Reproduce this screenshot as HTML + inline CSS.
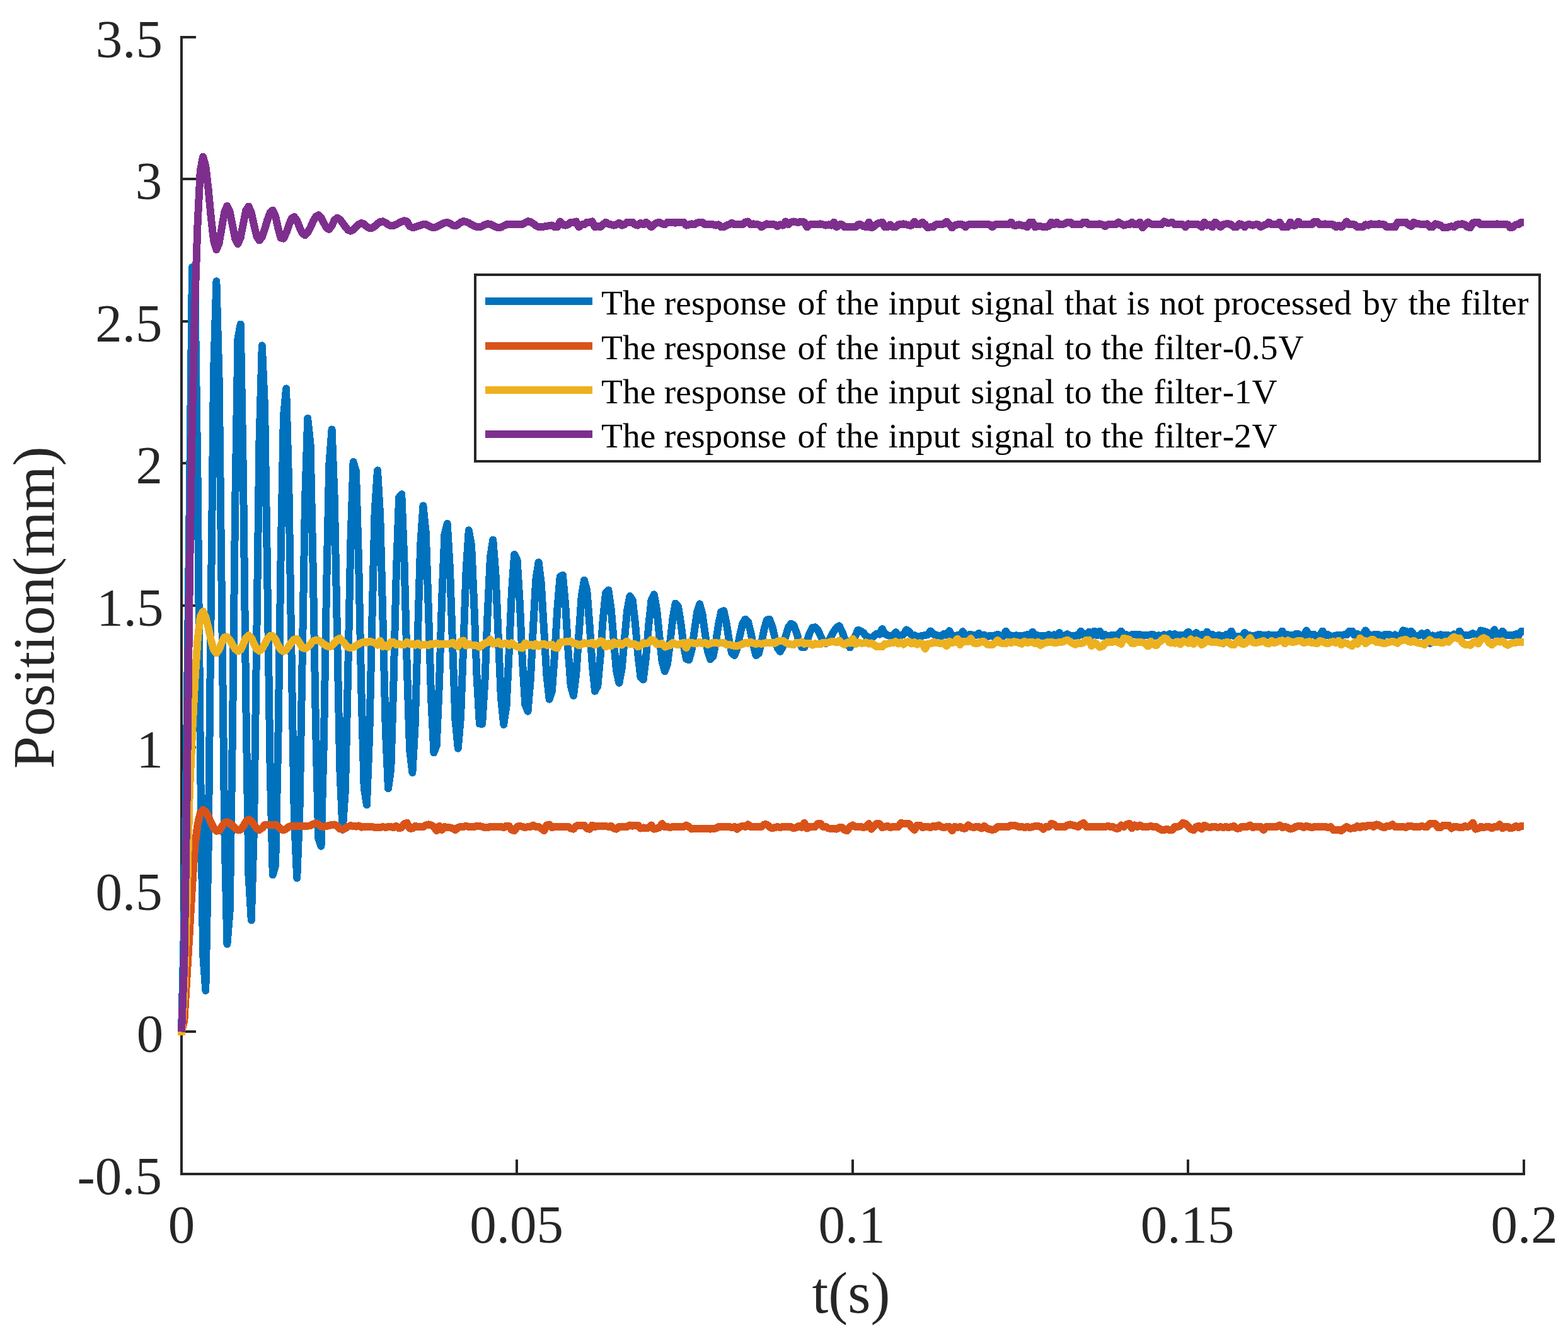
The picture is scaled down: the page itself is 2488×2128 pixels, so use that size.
<!DOCTYPE html>
<html lang="en"><head><meta charset="utf-8"><title>Position response</title>
<style>html,body{margin:0;padding:0;background:#fff}svg{display:block}</style></head>
<body>
<svg width="2488" height="2128" viewBox="0 0 2488 2128" role="img" aria-label="Position response versus time">
<rect width="2488" height="2128" fill="#fff"/>
<g id="axes" fill="#262626" stroke="none" shape-rendering="crispEdges">
<rect x="286" y="57" width="4" height="1808"/>
<rect x="286" y="1861" width="2134" height="4"/>
<rect x="818" y="1840" width="4" height="22"/>
<rect x="1351" y="1840" width="4" height="22"/>
<rect x="1883" y="1840" width="4" height="22"/>
<rect x="2416" y="1840" width="4" height="22"/>
<rect x="289" y="1635" width="22" height="4"/>
<rect x="289" y="1410" width="22" height="4"/>
<rect x="289" y="1184" width="22" height="4"/>
<rect x="289" y="959" width="22" height="4"/>
<rect x="289" y="733" width="22" height="4"/>
<rect x="289" y="508" width="22" height="4"/>
<rect x="289" y="282" width="22" height="4"/>
<rect x="289" y="57" width="22" height="4"/>
</g>
<g id="curves" shape-rendering="crispEdges">
<polyline points="288.0,1637.5 292.3,1461.6 296.5,1150.4 300.8,794.1 305.0,424.1 309.3,453.8 313.6,764.2 317.8,1190.7 322.1,1513.8 326.3,1571.9 330.6,1345.1 334.9,949.0 339.1,588.1 343.4,446.3 347.6,602.1 351.9,952.9 356.2,1311.8 360.4,1498.2 364.7,1445.0 368.9,1165.0 373.2,799.7 377.5,537.1 381.7,514.5 386.0,757.3 390.2,1110.2 394.5,1389.6 398.8,1460.2 403.0,1313.2 407.3,1007.5 411.5,699.6 415.8,548.3 420.1,647.6 424.3,919.7 428.6,1216.8 432.8,1388.4 437.1,1373.0 441.4,1170.0 445.6,883.6 449.9,660.9 454.1,616.5 458.4,776.1 462.7,1050.8 466.9,1298.5 471.2,1393.6 475.4,1287.5 479.7,1045.4 484.0,795.5 488.2,663.9 492.5,704.4 496.7,901.1 501.0,1153.0 505.3,1330.7 509.5,1342.8 513.8,1180.1 518.0,935.9 522.3,736.6 526.6,681.5 530.8,792.8 535.1,1010.1 539.3,1220.2 543.6,1316.8 547.9,1253.8 552.1,1068.9 556.4,859.7 560.6,733.0 564.9,747.6 569.2,894.7 573.4,1096.9 577.7,1250.1 581.9,1277.3 586.2,1166.7 590.5,978.4 594.7,809.9 599.0,746.4 603.2,817.5 607.5,983.6 611.8,1157.8 616.0,1251.4 620.3,1220.2 624.5,1081.7 628.8,908.5 633.1,789.5 637.3,784.3 641.6,894.1 645.8,1057.6 650.1,1190.3 654.4,1226.1 658.6,1151.5 662.9,1006.4 667.1,866.4 671.4,802.5 675.7,844.5 679.9,968.5 684.2,1109.0 688.4,1194.4 692.7,1183.3 697.0,1083.8 701.2,948.7 705.5,847.6 709.7,830.8 714.0,903.4 718.3,1029.2 722.5,1143.3 726.8,1187.6 731.0,1138.5 735.3,1024.7 739.6,905.4 743.8,841.4 748.1,865.7 752.3,960.3 756.6,1073.9 760.9,1148.5 765.1,1148.8 769.4,1081.4 773.6,975.3 777.9,884.7 782.2,856.7 786.4,909.4 790.7,1010.2 794.9,1106.5 799.2,1149.8 803.5,1120.6 807.7,1035.3 812.0,938.5 816.2,879.8 820.5,888.1 824.8,957.0 829.0,1049.6 833.3,1118.2 837.5,1128.8 841.8,1078.4 846.1,994.1 850.3,919.7 854.6,892.4 858.8,925.7 863.1,998.5 867.4,1072.2 871.6,1109.6 875.9,1096.6 880.1,1038.5 884.4,965.4 888.7,914.8 892.9,912.5 897.2,959.7 901.4,1030.4 905.7,1088.2 910.0,1104.0 914.2,1070.3 918.5,1006.8 922.7,946.9 927.0,920.6 931.3,937.1 935.5,991.1 939.8,1055.4 944.0,1096.8 948.3,1088.8 952.6,1041.6 956.8,981.9 961.1,940.5 965.3,936.4 969.6,965.8 973.9,1017.5 978.1,1065.0 982.4,1083.8 986.6,1061.3 990.9,1014.3 995.2,968.3 999.4,946.0 1003.7,952.1 1007.9,988.6 1012.2,1038.0 1016.5,1074.8 1020.7,1078.6 1025.0,1043.2 1029.2,992.5 1033.5,952.8 1037.8,943.4 1042.0,966.8 1046.3,1009.6 1050.5,1049.0 1054.8,1065.4 1059.1,1053.2 1063.3,1018.7 1067.6,980.3 1071.8,957.5 1076.1,962.7 1080.4,989.8 1084.6,1023.3 1088.9,1045.7 1093.1,1047.3 1097.4,1032.6 1101.7,1002.7 1105.9,972.4 1110.2,958.4 1114.4,974.1 1118.7,1004.7 1123.0,1033.5 1127.2,1046.3 1131.5,1041.8 1135.7,1019.8 1140.0,991.2 1144.3,970.8 1148.5,969.4 1152.8,989.7 1157.0,1016.8 1161.3,1036.5 1165.6,1040.0 1169.8,1028.2 1174.1,1007.7 1178.3,989.6 1182.6,982.6 1186.9,986.4 1191.1,1002.9 1195.4,1024.6 1199.6,1040.0 1203.9,1037.0 1208.2,1020.0 1212.4,998.7 1216.7,984.0 1220.9,982.6 1225.2,993.5 1229.5,1011.7 1233.7,1028.1 1238.0,1034.1 1242.2,1025.8 1246.5,1010.1 1250.8,995.8 1255.0,989.8 1259.3,992.0 1263.5,1002.8 1267.8,1016.8 1272.1,1026.8 1276.3,1027.3 1280.6,1017.1 1284.8,1004.4 1289.1,996.0 1293.4,995.3 1297.6,999.8 1301.9,1008.8 1306.1,1017.3 1310.4,1021.2 1314.7,1018.7 1318.9,1009.3 1323.2,1001.8 1327.4,996.0 1331.7,993.3 1336.0,1002.0 1340.2,1013.5 1344.5,1020.7 1348.7,1027.5 1353.0,1017.6 1357.3,1008.8 1361.5,999.6 1365.8,1001.4 1370.0,1004.1 1374.3,1009.8 1378.6,1011.5 1382.8,1013.2 1387.1,1008.5 1391.3,1005.6 1395.6,1006.6 1399.9,998.0 1404.1,1006.1 1408.4,1007.9 1412.6,1009.1 1416.9,1008.6 1421.2,1003.3 1425.4,1010.1 1429.7,1008.3 1433.9,1006.7 1438.2,999.4 1442.5,1002.4 1446.7,1008.0 1451.0,1008.2 1455.2,1010.0 1459.5,1009.8 1463.8,1008.9 1468.0,1007.9 1472.3,1007.1 1476.5,1001.5 1480.8,1006.5 1485.1,1007.4 1489.3,1009.2 1493.6,1009.4 1497.8,1005.9 1502.1,1008.4 1506.4,1001.1 1510.6,1008.7 1514.9,1011.3 1519.1,1008.2 1523.4,1009.8 1527.7,1002.2 1531.9,1008.9 1536.2,1007.5 1540.4,1007.1 1544.7,1007.9 1549.0,1007.9 1553.2,1004.9 1557.5,1009.5 1561.7,1007.5 1566.0,1011.0 1570.3,1008.6 1574.5,1009.5 1578.8,1008.2 1583.0,1006.9 1587.3,1009.2 1591.6,1009.4 1595.8,1001.7 1600.1,1007.4 1604.3,1008.6 1608.6,1009.6 1612.9,1008.3 1617.1,1009.3 1621.4,1009.3 1625.6,1008.2 1629.9,1007.2 1634.2,1008.4 1638.4,1002.8 1642.7,1008.5 1646.9,1008.4 1651.2,1009.4 1655.5,1009.4 1659.7,1009.4 1664.0,1007.2 1668.2,1009.5 1672.5,1007.3 1676.8,1008.4 1681.0,1004.1 1685.3,1010.6 1689.5,1008.3 1693.8,1006.3 1698.1,1009.4 1702.3,1009.5 1706.6,1008.4 1710.8,1009.5 1715.1,1001.6 1719.4,1007.2 1723.6,1011.9 1727.9,1002.7 1732.1,1008.3 1736.4,1001.6 1740.7,1008.4 1744.9,1001.6 1749.2,1009.5 1753.4,1007.2 1757.7,1012.0 1762.0,1008.3 1766.2,1008.3 1770.5,1008.3 1774.7,1007.2 1779.0,1001.6 1783.3,1009.5 1787.5,1007.2 1791.8,1009.5 1796.0,1007.2 1800.3,1007.2 1804.6,1007.2 1808.8,1007.2 1813.1,1008.4 1817.3,1008.4 1821.6,1008.4 1825.9,1007.2 1830.1,1007.2 1834.4,1009.5 1838.6,1008.3 1842.9,1009.5 1847.2,1007.2 1851.4,1008.4 1855.7,1006.1 1859.9,1009.5 1864.2,1006.1 1868.5,1008.4 1872.7,1008.4 1877.0,1008.4 1881.2,1007.2 1885.5,1002.7 1889.8,1008.4 1894.0,1008.4 1898.3,1004.1 1902.5,1008.4 1906.8,1007.2 1911.1,1009.5 1915.3,1002.7 1919.6,1008.4 1923.8,1007.2 1928.1,1009.5 1932.4,1008.4 1936.6,1008.4 1940.9,1021.0 1945.1,1007.2 1949.4,1009.5 1953.7,1001.6 1957.9,1009.5 1962.2,1009.5 1966.4,1009.5 1970.7,1009.5 1975.0,1004.1 1979.2,1008.4 1983.5,1008.4 1987.7,1009.5 1992.0,1008.4 1996.3,1007.2 2000.5,1007.2 2004.8,1008.4 2009.0,1008.4 2013.3,1007.2 2017.6,1008.4 2021.8,1008.4 2026.1,1008.4 2030.3,1007.2 2034.6,1001.6 2038.9,1008.4 2043.1,1007.2 2047.4,1008.4 2051.6,1008.4 2055.9,1006.3 2060.2,1006.3 2064.4,1008.4 2068.7,1008.4 2072.9,1000.5 2077.2,1008.4 2081.5,1007.2 2085.7,1007.2 2090.0,1010.6 2094.2,1008.4 2098.5,1001.6 2102.8,1008.4 2107.0,1007.2 2111.3,1009.5 2115.5,1009.5 2119.8,1008.4 2124.1,1008.4 2128.3,1008.4 2132.6,1007.2 2136.8,1007.2 2141.1,1001.6 2145.4,1001.6 2149.6,1008.4 2153.9,1006.1 2158.1,1008.4 2162.4,1008.4 2166.7,1000.5 2170.9,1006.1 2175.2,1009.7 2179.4,1007.2 2183.7,1007.2 2188.0,1007.2 2192.2,1013.1 2196.5,1007.2 2200.7,1007.2 2205.0,1007.2 2209.3,1009.5 2213.5,1007.2 2217.8,1009.5 2222.0,1009.5 2226.3,1000.5 2230.6,1001.6 2234.8,1009.5 2239.1,1001.6 2243.3,1007.2 2247.6,1009.5 2251.9,1008.4 2256.1,1005.2 2260.4,1009.5 2264.6,1004.1 2268.9,1021.0 2273.2,1008.4 2277.4,1012.0 2281.7,1008.4 2285.9,1007.2 2290.2,1008.4 2294.5,1008.4 2298.7,1008.4 2303.0,1009.5 2307.2,1006.3 2311.5,1010.8 2315.8,1001.6 2320.0,1007.2 2324.3,1008.4 2328.5,1008.4 2332.8,1007.2 2337.1,1005.2 2341.3,1007.2 2345.6,1010.6 2349.8,1000.5 2354.1,1001.6 2358.4,1002.7 2362.6,1007.2 2366.9,1008.4 2371.1,999.3 2375.4,1007.2 2379.7,1007.2 2383.9,1001.6 2388.2,1007.2 2392.4,1008.4 2396.7,1008.4 2401.0,1008.4 2405.2,1006.3 2409.5,1008.4 2413.7,1001.6 2418.0,1001.6" fill="none" stroke="#0072BD" stroke-width="12.0" stroke-linejoin="round" stroke-linecap="butt"/>
<polyline points="288.0,1637.5 292.3,1619.9 296.5,1550.9 300.8,1478.7 305.0,1406.6 309.3,1342.1 313.6,1308.3 317.8,1290.2 322.1,1285.3 326.3,1288.1 330.6,1295.6 334.9,1305.1 339.1,1313.8 343.4,1318.7 347.6,1318.1 351.9,1312.0 356.2,1305.6 360.4,1304.4 364.7,1306.5 368.9,1310.3 373.2,1314.4 377.5,1317.0 381.7,1316.8 386.0,1311.1 390.2,1303.7 394.5,1300.5 398.8,1303.0 403.0,1308.7 407.3,1314.5 411.5,1317.0 415.8,1314.0 420.1,1309.2 424.3,1308.5 428.6,1308.5 432.8,1308.5 437.1,1308.6 441.4,1311.3 445.6,1315.7 449.9,1317.4 454.1,1315.3 458.4,1312.0 462.7,1310.7 466.9,1310.7 471.2,1310.7 475.4,1310.7 479.7,1310.7 484.0,1310.7 488.2,1310.7 492.5,1310.2 496.7,1307.9 501.0,1306.3 505.3,1308.0 509.5,1311.4 513.8,1311.9 518.0,1311.1 522.3,1309.9 526.6,1308.9 530.8,1308.5 535.1,1311.2 539.3,1315.3 543.6,1316.1 547.9,1314.3 552.1,1311.9 556.4,1309.9 560.6,1311.2 564.9,1311.6 569.2,1310.4 573.4,1312.8 577.7,1311.9 581.9,1312.0 586.2,1312.0 590.5,1312.0 594.7,1313.1 599.0,1313.1 603.2,1313.1 607.5,1312.0 611.8,1313.1 616.0,1312.0 620.3,1312.0 624.5,1313.1 628.8,1310.9 633.1,1314.5 637.3,1313.1 641.6,1307.1 645.8,1305.9 650.1,1314.5 654.4,1314.5 658.6,1310.9 662.9,1312.0 667.1,1312.0 671.4,1312.0 675.7,1309.5 679.9,1308.4 684.2,1309.5 688.4,1312.0 692.7,1318.1 697.0,1310.9 701.2,1317.0 705.5,1312.0 709.7,1313.4 714.0,1313.4 718.3,1314.5 722.5,1317.0 726.8,1313.1 731.0,1312.0 735.3,1312.0 739.6,1310.9 743.8,1312.0 748.1,1312.0 752.3,1312.0 756.6,1310.7 760.9,1310.7 765.1,1312.0 769.4,1313.1 773.6,1313.1 777.9,1312.0 782.2,1312.0 786.4,1312.0 790.7,1312.0 794.9,1312.0 799.2,1313.1 803.5,1310.7 807.7,1310.9 812.0,1317.0 816.2,1318.1 820.5,1312.0 824.8,1310.7 829.0,1312.0 833.3,1313.1 837.5,1312.0 841.8,1312.0 846.1,1309.5 850.3,1312.0 854.6,1312.0 858.8,1314.5 863.1,1318.1 867.4,1309.5 871.6,1308.4 875.9,1313.1 880.1,1312.0 884.4,1312.0 888.7,1312.0 892.9,1312.0 897.2,1312.0 901.4,1312.0 905.7,1314.5 910.0,1315.6 914.2,1310.9 918.5,1309.5 922.7,1309.5 927.0,1309.5 931.3,1314.5 935.5,1315.8 939.8,1309.5 944.0,1312.0 948.3,1310.9 952.6,1310.9 956.8,1310.9 961.1,1310.9 965.3,1312.0 969.6,1310.9 973.9,1314.5 978.1,1315.6 982.4,1312.0 986.6,1312.0 990.9,1312.0 995.2,1311.8 999.4,1309.5 1003.7,1310.7 1007.9,1309.5 1012.2,1309.5 1016.5,1314.5 1020.7,1313.4 1025.0,1314.5 1029.2,1313.4 1033.5,1309.5 1037.8,1315.6 1042.0,1314.5 1046.3,1313.1 1050.5,1307.1 1054.8,1312.0 1059.1,1312.0 1063.3,1313.1 1067.6,1312.0 1071.8,1312.0 1076.1,1312.0 1080.4,1312.0 1084.6,1312.0 1088.9,1309.5 1093.1,1312.0 1097.4,1315.6 1101.7,1314.5 1105.9,1314.5 1110.2,1314.5 1114.4,1314.5 1118.7,1314.5 1123.0,1314.5 1127.2,1315.6 1131.5,1314.5 1135.7,1314.5 1140.0,1312.0 1144.3,1312.0 1148.5,1312.0 1152.8,1312.0 1157.0,1312.0 1161.3,1313.1 1165.6,1312.0 1169.8,1315.6 1174.1,1312.0 1178.3,1310.9 1182.6,1312.0 1186.9,1308.4 1191.1,1312.0 1195.4,1312.0 1199.6,1312.0 1203.9,1312.0 1208.2,1312.0 1212.4,1308.4 1216.7,1308.4 1220.9,1312.0 1225.2,1314.3 1229.5,1313.1 1233.7,1312.0 1238.0,1313.1 1242.2,1312.0 1246.5,1312.0 1250.8,1312.0 1255.0,1312.0 1259.3,1314.5 1263.5,1313.1 1267.8,1310.9 1272.1,1313.1 1276.3,1305.9 1280.6,1314.5 1284.8,1312.0 1289.1,1312.0 1293.4,1312.0 1297.6,1307.1 1301.9,1307.1 1306.1,1312.0 1310.4,1312.0 1314.7,1314.5 1318.9,1314.5 1323.2,1314.5 1327.4,1315.6 1331.7,1313.1 1336.0,1313.1 1340.2,1317.0 1344.5,1318.1 1348.7,1312.0 1353.0,1309.5 1357.3,1312.0 1361.5,1312.0 1365.8,1312.0 1370.0,1313.1 1374.3,1312.0 1378.6,1307.1 1382.8,1315.6 1387.1,1310.9 1391.3,1307.1 1395.6,1307.1 1399.9,1313.1 1404.1,1312.0 1408.4,1310.9 1412.6,1313.1 1416.9,1312.0 1421.2,1312.0 1425.4,1312.0 1429.7,1305.9 1433.9,1307.1 1438.2,1307.1 1442.5,1307.1 1446.7,1313.1 1451.0,1317.0 1455.2,1309.5 1459.5,1309.5 1463.8,1313.1 1468.0,1312.0 1472.3,1312.0 1476.5,1313.1 1480.8,1310.9 1485.1,1312.0 1489.3,1309.5 1493.6,1312.0 1497.8,1313.4 1502.1,1312.0 1506.4,1312.0 1510.6,1318.1 1514.9,1312.0 1519.1,1313.1 1523.4,1312.0 1527.7,1314.5 1531.9,1314.5 1536.2,1309.5 1540.4,1312.0 1544.7,1313.1 1549.0,1312.0 1553.2,1312.0 1557.5,1314.5 1561.7,1310.9 1566.0,1314.5 1570.3,1315.8 1574.5,1317.0 1578.8,1315.8 1583.0,1312.0 1587.3,1312.0 1591.6,1312.0 1595.8,1312.0 1600.1,1312.0 1604.3,1309.5 1608.6,1309.5 1612.9,1310.9 1617.1,1312.0 1621.4,1312.0 1625.6,1313.1 1629.9,1312.0 1634.2,1313.1 1638.4,1312.0 1642.7,1310.9 1646.9,1310.9 1651.2,1312.0 1655.5,1315.6 1659.7,1312.0 1664.0,1312.0 1668.2,1307.1 1672.5,1308.2 1676.8,1312.0 1681.0,1312.0 1685.3,1312.0 1689.5,1312.0 1693.8,1309.5 1698.1,1308.4 1702.3,1309.5 1706.6,1310.7 1710.8,1312.0 1715.1,1308.2 1719.4,1305.9 1723.6,1312.0 1727.9,1312.0 1732.1,1312.0 1736.4,1312.0 1740.7,1312.0 1744.9,1312.0 1749.2,1312.0 1753.4,1312.0 1757.7,1310.9 1762.0,1312.0 1766.2,1312.0 1770.5,1314.5 1774.7,1314.5 1779.0,1309.5 1783.3,1312.0 1787.5,1308.2 1791.8,1307.1 1796.0,1314.5 1800.3,1309.5 1804.6,1312.0 1808.8,1309.5 1813.1,1312.0 1817.3,1312.0 1821.6,1312.0 1825.9,1310.9 1830.1,1312.0 1834.4,1312.0 1838.6,1314.5 1842.9,1317.0 1847.2,1317.0 1851.4,1315.8 1855.7,1317.0 1859.9,1317.0 1864.2,1312.0 1868.5,1312.0 1872.7,1310.7 1877.0,1305.9 1881.2,1307.1 1885.5,1312.0 1889.8,1315.8 1894.0,1317.0 1898.3,1312.0 1902.5,1310.9 1906.8,1315.6 1911.1,1309.5 1915.3,1312.0 1919.6,1313.1 1923.8,1312.0 1928.1,1312.0 1932.4,1313.1 1936.6,1312.0 1940.9,1313.1 1945.1,1312.0 1949.4,1313.1 1953.7,1312.0 1957.9,1310.9 1962.2,1314.5 1966.4,1314.5 1970.7,1312.0 1975.0,1312.0 1979.2,1312.0 1983.5,1309.5 1987.7,1313.1 1992.0,1312.0 1996.3,1312.0 2000.5,1312.0 2004.8,1317.0 2009.0,1312.0 2013.3,1312.0 2017.6,1312.0 2021.8,1312.0 2026.1,1312.0 2030.3,1309.5 2034.6,1313.1 2038.9,1312.0 2043.1,1313.1 2047.4,1315.6 2051.6,1314.5 2055.9,1312.0 2060.2,1310.9 2064.4,1310.9 2068.7,1313.1 2072.9,1310.9 2077.2,1312.0 2081.5,1313.4 2085.7,1312.0 2090.0,1312.0 2094.2,1312.0 2098.5,1312.0 2102.8,1312.0 2107.0,1313.1 2111.3,1312.0 2115.5,1317.0 2119.8,1317.0 2124.1,1317.0 2128.3,1318.1 2132.6,1314.7 2136.8,1312.0 2141.1,1314.5 2145.4,1314.5 2149.6,1314.3 2153.9,1310.9 2158.1,1313.4 2162.4,1310.7 2166.7,1312.0 2170.9,1309.5 2175.2,1309.5 2179.4,1312.0 2183.7,1308.4 2188.0,1309.5 2192.2,1312.0 2196.5,1313.4 2200.7,1310.7 2205.0,1310.9 2209.3,1308.4 2213.5,1312.0 2217.8,1312.0 2222.0,1312.0 2226.3,1312.0 2230.6,1313.1 2234.8,1310.9 2239.1,1310.9 2243.3,1312.0 2247.6,1312.0 2251.9,1312.0 2256.1,1310.9 2260.4,1312.0 2264.6,1312.0 2268.9,1307.1 2273.2,1307.1 2277.4,1307.1 2281.7,1313.1 2285.9,1313.1 2290.2,1309.5 2294.5,1309.5 2298.7,1309.5 2303.0,1314.5 2307.2,1312.0 2311.5,1312.0 2315.8,1313.1 2320.0,1313.1 2324.3,1310.9 2328.5,1312.0 2332.8,1310.7 2337.1,1305.9 2341.3,1315.6 2345.6,1314.5 2349.8,1312.0 2354.1,1313.1 2358.4,1312.0 2362.6,1312.0 2366.9,1314.3 2371.1,1312.0 2375.4,1312.0 2379.7,1308.2 2383.9,1314.5 2388.2,1312.0 2392.4,1312.0 2396.7,1314.5 2401.0,1313.4 2405.2,1310.9 2409.5,1313.1 2413.7,1310.9 2418.0,1310.9" fill="none" stroke="#D95319" stroke-width="12.0" stroke-linejoin="round" stroke-linecap="butt"/>
<polyline points="288.0,1642.9 292.3,1574.4 296.5,1434.5 300.8,1256.0 305.0,1163.9 309.3,1080.5 313.6,1015.1 317.8,979.0 322.1,970.3 326.3,978.6 330.6,995.9 334.9,1016.0 339.1,1031.4 343.4,1036.5 347.6,1030.9 351.9,1019.7 356.2,1011.2 360.4,1010.7 364.7,1015.5 368.9,1022.9 373.2,1029.8 377.5,1033.4 381.7,1031.1 386.0,1022.1 390.2,1012.3 394.5,1008.2 398.8,1012.2 403.0,1021.3 407.3,1030.0 411.5,1032.9 415.8,1029.4 420.1,1022.0 424.3,1013.9 428.6,1008.8 432.8,1009.1 437.1,1015.0 441.4,1023.8 445.6,1031.1 449.9,1033.6 454.1,1031.0 458.4,1025.4 462.7,1019.0 466.9,1014.5 471.2,1014.1 475.4,1020.1 479.7,1027.6 484.0,1029.4 488.2,1026.8 492.5,1022.1 496.7,1017.6 501.0,1015.5 505.3,1016.3 509.5,1018.8 513.8,1022.1 518.0,1024.9 522.3,1026.4 526.6,1025.0 530.8,1020.2 535.1,1015.2 539.3,1013.1 543.6,1017.2 547.9,1022.4 552.1,1027.0 556.4,1028.1 560.6,1026.9 564.9,1024.6 569.2,1022.0 573.4,1019.8 577.7,1018.9 581.9,1020.0 586.2,1017.6 590.5,1019.2 594.7,1019.8 599.0,1023.6 603.2,1016.8 607.5,1026.0 611.8,1023.7 616.0,1026.7 620.3,1019.0 624.5,1019.0 628.8,1023.0 633.1,1021.9 637.3,1023.0 641.6,1023.0 645.8,1018.9 650.1,1021.9 654.4,1021.9 658.6,1023.7 662.9,1020.7 667.1,1024.1 671.4,1023.0 675.7,1023.0 679.9,1024.1 684.2,1021.8 688.4,1021.8 692.7,1020.7 697.0,1022.9 701.2,1021.8 705.5,1021.8 709.7,1021.8 714.0,1021.7 718.3,1019.5 722.5,1023.5 726.8,1025.8 731.0,1017.7 735.3,1016.5 739.6,1024.6 743.8,1021.7 748.1,1023.5 752.3,1023.5 756.6,1024.6 760.9,1026.8 765.1,1024.1 769.4,1020.5 773.6,1019.4 777.9,1014.6 782.2,1021.6 786.4,1020.9 790.7,1018.2 794.9,1022.7 799.2,1021.6 803.5,1020.5 807.7,1023.8 812.0,1020.4 816.2,1023.8 820.5,1026.3 824.8,1027.4 829.0,1028.5 833.3,1020.4 837.5,1024.4 841.8,1022.6 846.1,1025.1 850.3,1021.5 854.6,1025.5 858.8,1022.6 863.1,1021.5 867.4,1023.7 871.6,1023.3 875.9,1022.6 880.1,1027.3 884.4,1028.4 888.7,1019.6 892.9,1018.5 897.2,1018.5 901.4,1018.0 905.7,1017.3 910.0,1021.4 914.2,1021.4 918.5,1024.3 922.7,1022.5 927.0,1020.2 931.3,1021.3 935.5,1021.3 939.8,1019.5 944.0,1023.6 948.3,1021.3 952.6,1017.2 956.8,1018.4 961.1,1026.5 965.3,1021.3 969.6,1025.3 973.9,1019.0 978.1,1022.4 982.4,1020.1 986.6,1023.5 990.9,1020.1 995.2,1017.8 999.4,1022.3 1003.7,1022.3 1007.9,1022.3 1012.2,1026.4 1016.5,1024.1 1020.7,1020.0 1025.0,1021.2 1029.2,1020.0 1033.5,1015.3 1037.8,1016.4 1042.0,1022.3 1046.3,1022.2 1050.5,1021.1 1054.8,1026.3 1059.1,1025.2 1063.3,1024.0 1067.6,1019.9 1071.8,1022.2 1076.1,1023.3 1080.4,1021.1 1084.6,1019.9 1088.9,1028.0 1093.1,1019.2 1097.4,1019.9 1101.7,1021.0 1105.9,1021.0 1110.2,1018.7 1114.4,1021.0 1118.7,1019.9 1123.0,1022.8 1127.2,1021.0 1131.5,1019.8 1135.7,1019.8 1140.0,1020.9 1144.3,1019.8 1148.5,1019.8 1152.8,1023.2 1157.0,1023.2 1161.3,1023.8 1165.6,1024.9 1169.8,1024.9 1174.1,1023.8 1178.3,1022.0 1182.6,1019.7 1186.9,1020.8 1191.1,1018.6 1195.4,1020.8 1199.6,1022.0 1203.9,1020.8 1208.2,1021.9 1212.4,1020.8 1216.7,1019.7 1220.9,1019.7 1225.2,1019.6 1229.5,1020.8 1233.7,1017.8 1238.0,1016.7 1242.2,1016.7 1246.5,1019.6 1250.8,1021.9 1255.0,1022.5 1259.3,1023.0 1263.5,1019.6 1267.8,1020.7 1272.1,1018.4 1276.3,1021.8 1280.6,1020.7 1284.8,1020.7 1289.1,1023.6 1293.4,1021.3 1297.6,1022.4 1301.9,1022.4 1306.1,1019.5 1310.4,1019.5 1314.7,1019.5 1318.9,1018.3 1323.2,1018.3 1327.4,1019.5 1331.7,1016.5 1336.0,1020.6 1340.2,1022.8 1344.5,1019.4 1348.7,1020.5 1353.0,1013.5 1357.3,1022.3 1361.5,1019.4 1365.8,1020.5 1370.0,1020.5 1374.3,1019.4 1378.6,1021.6 1382.8,1020.5 1387.1,1023.4 1391.3,1026.3 1395.6,1026.3 1399.9,1026.3 1404.1,1021.6 1408.4,1021.6 1412.6,1020.4 1416.9,1020.4 1421.2,1018.1 1425.4,1021.5 1429.7,1019.3 1433.9,1022.6 1438.2,1018.6 1442.5,1018.1 1446.7,1021.5 1451.0,1019.2 1455.2,1022.6 1459.5,1020.3 1463.8,1021.4 1468.0,1029.6 1472.3,1021.7 1476.5,1021.4 1480.8,1019.2 1485.1,1020.3 1489.3,1020.3 1493.6,1021.4 1497.8,1020.3 1502.1,1025.0 1506.4,1018.0 1510.6,1020.2 1514.9,1019.1 1519.1,1013.9 1523.4,1023.1 1527.7,1017.9 1531.9,1018.4 1536.2,1018.4 1540.4,1013.2 1544.7,1020.2 1549.0,1021.3 1553.2,1020.2 1557.5,1018.3 1561.7,1018.3 1566.0,1022.4 1570.3,1023.0 1574.5,1023.0 1578.8,1020.1 1583.0,1016.0 1587.3,1020.1 1591.6,1021.2 1595.8,1021.2 1600.1,1018.9 1604.3,1020.1 1608.6,1018.2 1612.9,1018.9 1617.1,1020.0 1621.4,1021.8 1625.6,1017.8 1629.9,1020.0 1634.2,1018.9 1638.4,1018.9 1642.7,1021.1 1646.9,1018.8 1651.2,1024.0 1655.5,1021.1 1659.7,1019.9 1664.0,1018.8 1668.2,1018.8 1672.5,1019.9 1676.8,1019.9 1681.0,1018.8 1685.3,1018.8 1689.5,1017.0 1693.8,1015.8 1698.1,1018.1 1702.3,1021.0 1706.6,1022.8 1710.8,1019.9 1715.1,1021.0 1719.4,1019.8 1723.6,1015.8 1727.9,1015.8 1732.1,1025.0 1736.4,1019.8 1740.7,1022.3 1744.9,1026.8 1749.2,1025.6 1753.4,1020.9 1757.7,1018.6 1762.0,1018.6 1766.2,1018.6 1770.5,1017.5 1774.7,1019.7 1779.0,1022.0 1783.3,1012.7 1787.5,1013.8 1791.8,1015.0 1796.0,1020.8 1800.3,1020.8 1804.6,1018.5 1808.8,1018.5 1813.1,1019.7 1817.3,1020.8 1821.6,1025.5 1825.9,1017.8 1830.1,1022.6 1834.4,1024.4 1838.6,1019.6 1842.9,1016.2 1847.2,1012.6 1851.4,1013.7 1855.7,1019.6 1859.9,1019.6 1864.2,1020.7 1868.5,1018.4 1872.7,1022.5 1877.0,1017.3 1881.2,1018.4 1885.5,1020.6 1889.8,1014.3 1894.0,1021.8 1898.3,1016.1 1902.5,1018.4 1906.8,1022.9 1911.1,1020.6 1915.3,1014.7 1919.6,1018.3 1923.8,1019.4 1928.1,1019.4 1932.4,1019.4 1936.6,1020.5 1940.9,1020.5 1945.1,1019.4 1949.4,1019.4 1953.7,1022.8 1957.9,1023.4 1962.2,1019.4 1966.4,1014.2 1970.7,1021.6 1975.0,1021.6 1979.2,1018.7 1983.5,1012.3 1987.7,1019.3 1992.0,1020.0 1996.3,1019.3 2000.5,1018.2 2004.8,1017.0 2009.0,1020.4 2013.3,1021.5 2017.6,1017.0 2021.8,1020.4 2026.1,1018.8 2030.3,1017.0 2034.6,1016.3 2038.9,1021.5 2043.1,1016.3 2047.4,1018.1 2051.6,1019.2 2055.9,1018.1 2060.2,1016.9 2064.4,1016.9 2068.7,1020.3 2072.9,1019.2 2077.2,1018.0 2081.5,1020.3 2085.7,1020.3 2090.0,1021.4 2094.2,1016.9 2098.5,1018.0 2102.8,1020.2 2107.0,1021.4 2111.3,1019.1 2115.5,1018.0 2119.8,1020.2 2124.1,1016.8 2128.3,1023.1 2132.6,1019.7 2136.8,1020.8 2141.1,1023.1 2145.4,1024.9 2149.6,1019.0 2153.9,1021.9 2158.1,1012.7 2162.4,1016.7 2166.7,1021.2 2170.9,1017.8 2175.2,1015.4 2179.4,1015.3 2183.7,1018.9 2188.0,1018.9 2192.2,1020.1 2196.5,1021.2 2200.7,1020.0 2205.0,1018.9 2209.3,1017.8 2213.5,1018.9 2217.8,1020.7 2222.0,1016.6 2226.3,1015.9 2230.6,1014.8 2234.8,1017.7 2239.1,1018.8 2243.3,1016.6 2247.6,1019.5 2251.9,1020.6 2256.1,1020.6 2260.4,1022.9 2264.6,1018.8 2268.9,1015.4 2273.2,1018.8 2277.4,1018.8 2281.7,1018.8 2285.9,1019.9 2290.2,1019.9 2294.5,1017.6 2298.7,1018.7 2303.0,1014.0 2307.2,1010.6 2311.5,1012.8 2315.8,1012.8 2320.0,1019.4 2324.3,1022.7 2328.5,1022.7 2332.8,1023.9 2337.1,1019.8 2341.3,1017.5 2345.6,1021.6 2349.8,1014.6 2354.1,1012.3 2358.4,1014.6 2362.6,1019.3 2366.9,1023.3 2371.1,1019.7 2375.4,1017.5 2379.7,1018.6 2383.9,1017.4 2388.2,1021.5 2392.4,1023.7 2396.7,1021.5 2401.0,1019.7 2405.2,1019.7 2409.5,1018.5 2413.7,1018.5 2418.0,1018.5" fill="none" stroke="#EDB120" stroke-width="12.0" stroke-linejoin="round" stroke-linecap="butt"/>
<polyline points="288.0,1637.5 292.3,1531.1 296.5,1272.2 300.8,922.2 305.0,663.3 309.3,480.2 313.6,354.4 317.8,271.0 322.1,248.8 326.3,263.3 330.6,300.1 334.9,345.5 339.1,382.1 343.4,396.2 347.6,386.0 351.9,361.1 356.2,336.5 360.4,326.7 364.7,336.1 368.9,357.7 373.2,378.8 377.5,387.1 381.7,377.1 386.0,354.8 390.2,334.0 394.5,327.6 398.8,337.5 403.0,356.9 407.3,374.9 411.5,381.4 415.8,376.1 420.1,363.7 424.3,349.0 428.6,337.5 432.8,333.7 437.1,343.3 441.4,362.6 445.6,377.6 449.9,378.5 454.1,369.8 458.4,357.0 462.7,346.7 466.9,344.2 471.2,350.1 475.4,360.8 479.7,370.2 484.0,373.1 488.2,369.3 492.5,361.1 496.7,351.5 501.0,344.0 505.3,341.4 509.5,345.3 513.8,353.8 518.0,361.6 522.3,363.8 526.6,358.0 530.8,349.2 535.1,345.8 539.3,348.2 543.6,353.5 547.9,359.8 552.1,364.8 556.4,366.6 560.6,364.7 564.9,360.4 569.2,355.9 573.4,354.0 577.7,355.6 581.9,359.4 586.2,362.1 590.5,361.7 594.7,358.9 599.0,355.1 603.2,352.1 607.5,351.4 611.8,353.4 616.0,356.6 620.3,358.4 624.5,357.9 628.8,356.2 633.1,353.9 637.3,351.8 641.6,350.4 645.8,351.4 650.1,359.0 654.4,361.2 658.6,360.4 662.9,358.9 667.1,357.3 671.4,356.2 675.7,356.1 679.9,358.0 684.2,360.5 688.4,361.3 692.7,360.1 697.0,357.9 701.2,355.4 705.5,353.6 709.7,353.0 714.0,354.7 718.3,357.3 722.5,358.4 726.8,356.4 731.0,352.9 735.3,351.2 739.6,351.9 743.8,353.8 748.1,356.2 752.3,358.6 756.6,360.2 760.9,360.5 765.1,359.0 769.4,356.6 773.6,355.2 777.9,355.8 782.2,357.8 786.4,360.0 790.7,361.2 794.9,360.7 799.2,358.4 803.5,356.4 807.7,356.0 812.0,356.0 816.2,356.0 820.5,356.0 824.8,356.0 829.0,355.9 833.3,353.4 837.5,351.2 841.8,352.1 846.1,354.9 850.3,358.1 854.6,360.3 858.8,360.3 863.1,359.6 867.4,358.9 871.6,358.2 875.9,357.5 880.1,360.3 884.4,360.3 888.7,351.5 892.9,356.4 897.2,357.6 901.4,356.4 905.7,352.6 910.0,352.6 914.2,351.5 918.5,360.3 922.7,356.4 927.0,356.4 931.3,352.6 935.5,352.6 939.8,351.5 944.0,360.3 948.3,359.1 952.6,360.3 956.8,356.4 961.1,352.6 965.3,355.3 969.6,356.4 973.9,357.6 978.1,356.4 982.4,353.7 986.6,357.6 990.9,356.4 995.2,352.6 999.4,352.6 1003.7,352.6 1007.9,356.4 1012.2,357.6 1016.5,353.7 1020.7,356.4 1025.0,352.6 1029.2,356.4 1033.5,360.3 1037.8,356.4 1042.0,353.7 1046.3,352.6 1050.5,355.3 1054.8,356.4 1059.1,352.6 1063.3,352.6 1067.6,352.6 1071.8,353.7 1076.1,352.6 1080.4,352.6 1084.6,352.6 1088.9,357.6 1093.1,356.4 1097.4,355.3 1101.7,356.4 1105.9,353.7 1110.2,352.6 1114.4,352.6 1118.7,356.4 1123.0,356.4 1127.2,356.4 1131.5,356.4 1135.7,357.6 1140.0,356.4 1144.3,360.3 1148.5,360.3 1152.8,357.6 1157.0,356.4 1161.3,353.7 1165.6,356.4 1169.8,356.4 1174.1,356.4 1178.3,356.4 1182.6,352.6 1186.9,351.5 1191.1,356.4 1195.4,355.3 1199.6,356.4 1203.9,356.4 1208.2,360.3 1212.4,357.6 1216.7,355.3 1220.9,356.4 1225.2,356.4 1229.5,356.4 1233.7,359.1 1238.0,356.4 1242.2,357.6 1246.5,351.5 1250.8,356.4 1255.0,352.6 1259.3,351.5 1263.5,352.6 1267.8,352.6 1272.1,351.5 1276.3,352.6 1280.6,360.3 1284.8,356.4 1289.1,356.4 1293.4,356.4 1297.6,356.4 1301.9,355.3 1306.1,356.4 1310.4,357.6 1314.7,356.4 1318.9,357.6 1323.2,352.6 1327.4,360.3 1331.7,356.4 1336.0,356.4 1340.2,360.3 1344.5,360.3 1348.7,360.3 1353.0,360.3 1357.3,360.3 1361.5,356.4 1365.8,356.4 1370.0,359.1 1374.3,360.3 1378.6,352.6 1382.8,361.4 1387.1,359.1 1391.3,355.3 1395.6,353.7 1399.9,352.6 1404.1,360.3 1408.4,360.3 1412.6,356.4 1416.9,360.3 1421.2,360.3 1425.4,356.4 1429.7,356.4 1433.9,355.3 1438.2,356.4 1442.5,357.6 1446.7,357.6 1451.0,351.5 1455.2,356.4 1459.5,356.4 1463.8,352.6 1468.0,356.4 1472.3,361.4 1476.5,360.3 1480.8,360.3 1485.1,356.4 1489.3,356.4 1493.6,356.4 1497.8,355.3 1502.1,351.5 1506.4,356.4 1510.6,361.4 1514.9,357.6 1519.1,356.4 1523.4,356.4 1527.7,356.4 1531.9,360.3 1536.2,356.4 1540.4,356.4 1544.7,356.4 1549.0,356.4 1553.2,356.4 1557.5,356.4 1561.7,356.4 1566.0,356.4 1570.3,356.4 1574.5,360.3 1578.8,356.4 1583.0,356.4 1587.3,356.4 1591.6,356.4 1595.8,356.4 1600.1,356.4 1604.3,352.6 1608.6,357.6 1612.9,357.6 1617.1,356.4 1621.4,357.6 1625.6,357.6 1629.9,360.3 1634.2,352.6 1638.4,352.6 1642.7,360.3 1646.9,359.1 1651.2,359.1 1655.5,360.3 1659.7,360.3 1664.0,359.1 1668.2,352.6 1672.5,356.4 1676.8,352.6 1681.0,356.4 1685.3,356.4 1689.5,355.3 1693.8,352.6 1698.1,352.6 1702.3,356.4 1706.6,356.4 1710.8,356.4 1715.1,356.4 1719.4,352.6 1723.6,352.6 1727.9,356.4 1732.1,356.4 1736.4,356.4 1740.7,356.4 1744.9,355.3 1749.2,356.4 1753.4,359.1 1757.7,356.4 1762.0,356.4 1766.2,356.4 1770.5,356.4 1774.7,352.6 1779.0,355.3 1783.3,357.6 1787.5,356.4 1791.8,356.4 1796.0,352.6 1800.3,356.4 1804.6,356.4 1808.8,352.6 1813.1,361.4 1817.3,356.4 1821.6,352.6 1825.9,355.3 1830.1,356.4 1834.4,356.4 1838.6,356.4 1842.9,356.4 1847.2,351.5 1851.4,353.7 1855.7,353.7 1859.9,352.6 1864.2,356.4 1868.5,356.4 1872.7,356.4 1877.0,356.4 1881.2,360.3 1885.5,355.3 1889.8,356.4 1894.0,356.4 1898.3,356.4 1902.5,356.4 1906.8,360.3 1911.1,352.6 1915.3,357.6 1919.6,356.4 1923.8,360.3 1928.1,352.6 1932.4,356.4 1936.6,360.3 1940.9,356.4 1945.1,355.3 1949.4,355.3 1953.7,356.4 1957.9,360.3 1962.2,360.3 1966.4,355.3 1970.7,356.4 1975.0,360.3 1979.2,356.4 1983.5,356.4 1987.7,357.6 1992.0,356.4 1996.3,356.4 2000.5,360.3 2004.8,357.6 2009.0,356.4 2013.3,352.6 2017.6,356.4 2021.8,356.4 2026.1,356.4 2030.3,352.6 2034.6,360.3 2038.9,360.3 2043.1,360.3 2047.4,352.6 2051.6,357.6 2055.9,357.6 2060.2,351.5 2064.4,356.4 2068.7,356.4 2072.9,356.4 2077.2,356.4 2081.5,356.4 2085.7,351.5 2090.0,351.5 2094.2,356.4 2098.5,356.4 2102.8,355.3 2107.0,356.4 2111.3,356.4 2115.5,356.4 2119.8,360.3 2124.1,357.6 2128.3,360.3 2132.6,356.4 2136.8,351.5 2141.1,356.4 2145.4,356.4 2149.6,356.4 2153.9,360.3 2158.1,360.3 2162.4,360.3 2166.7,356.4 2170.9,357.6 2175.2,355.3 2179.4,356.4 2183.7,356.4 2188.0,355.3 2192.2,356.4 2196.5,356.4 2200.7,360.3 2205.0,360.3 2209.3,360.3 2213.5,360.3 2217.8,352.6 2222.0,352.6 2226.3,352.6 2230.6,352.6 2234.8,356.4 2239.1,359.1 2243.3,352.6 2247.6,355.3 2251.9,355.3 2256.1,356.4 2260.4,356.4 2264.6,355.3 2268.9,360.3 2273.2,360.3 2277.4,355.3 2281.7,356.4 2285.9,357.6 2290.2,361.4 2294.5,361.4 2298.7,360.3 2303.0,359.1 2307.2,360.3 2311.5,356.4 2315.8,356.4 2320.0,355.3 2324.3,356.4 2328.5,360.3 2332.8,361.4 2337.1,353.7 2341.3,352.6 2345.6,352.6 2349.8,356.4 2354.1,356.4 2358.4,356.4 2362.6,356.4 2366.9,356.4 2371.1,356.4 2375.4,355.3 2379.7,356.4 2383.9,356.4 2388.2,356.4 2392.4,356.4 2396.7,361.4 2401.0,360.3 2405.2,356.4 2409.5,356.4 2413.7,352.6 2418.0,352.6" fill="none" stroke="#7E2F8E" stroke-width="12.0" stroke-linejoin="round" stroke-linecap="butt"/>
</g>
<g id="ticklabels" font-family="'Liberation Serif', serif" font-size="85" fill="#262626">
<text x="288.0" y="1972" text-anchor="middle">0</text>
<text x="819.5" y="1972" text-anchor="middle">0.05</text>
<text x="1351.5" y="1972" text-anchor="middle">0.1</text>
<text x="1884.0" y="1972" text-anchor="middle">0.15</text>
<text x="2418.5" y="1972" text-anchor="middle">0.2</text>
<text x="257.0" y="1894.8" text-anchor="end">-0.5</text>
<text x="259.3" y="1668.8" text-anchor="end">0</text>
<text x="257.7" y="1443.8" text-anchor="end">0.5</text>
<text x="259.0" y="1217.8" text-anchor="end">1</text>
<text x="259.5" y="992.8" text-anchor="end">1.5</text>
<text x="258.0" y="766.8" text-anchor="end">2</text>
<text x="257.5" y="541.8" text-anchor="end">2.5</text>
<text x="257.3" y="315.8" text-anchor="end">3</text>
<text x="258.0" y="90.8" text-anchor="end">3.5</text>
</g>
<g id="axislabels" font-family="'Liberation Serif', serif" font-size="93" fill="#262626">
<text x="1350.5" y="2083" text-anchor="middle">t(s)</text>
<text transform="translate(85.3,964.2) rotate(-90)" text-anchor="middle">Position(mm)</text>
</g>
<g id="legend">
<rect x="754" y="436" width="1689" height="296" fill="#fff" stroke="#262626" stroke-width="4" shape-rendering="crispEdges"/>
<rect x="770" y="472" width="170" height="12" fill="#0072BD" shape-rendering="crispEdges"/>
<text y="499" font-family="'Liberation Serif', serif" font-size="55.5" fill="#000" style="white-space:pre"><tspan x="954.0">The </tspan><tspan x="1053.8">response </tspan><tspan x="1265.6">of </tspan><tspan x="1326.8">the </tspan><tspan x="1409.6">input </tspan><tspan x="1540.6">signal </tspan><tspan x="1689.1">that </tspan><tspan x="1787.8">is </tspan><tspan x="1839.8">not </tspan><tspan x="1925.6">processed </tspan><tspan x="2162.3">by </tspan><tspan x="2234.5">the </tspan><tspan x="2317.6">filter</tspan></text>
<rect x="770" y="543" width="170" height="12" fill="#D95319" shape-rendering="crispEdges"/>
<text y="570" font-family="'Liberation Serif', serif" font-size="55.5" fill="#000" style="white-space:pre"><tspan x="954.0">The </tspan><tspan x="1053.8">response </tspan><tspan x="1265.6">of </tspan><tspan x="1326.8">the </tspan><tspan x="1409.6">input </tspan><tspan x="1540.6">signal </tspan><tspan x="1689.3">to </tspan><tspan x="1747.2">the </tspan><tspan x="1830.5">filter</tspan><tspan x="1939.7">-</tspan><tspan x="1958.0">0.5</tspan><tspan x="2028.6">V</tspan></text>
<rect x="770" y="613" width="170" height="12" fill="#EDB120" shape-rendering="crispEdges"/>
<text y="640" font-family="'Liberation Serif', serif" font-size="55.5" fill="#000" style="white-space:pre"><tspan x="954.0">The </tspan><tspan x="1053.8">response </tspan><tspan x="1265.6">of </tspan><tspan x="1326.8">the </tspan><tspan x="1409.6">input </tspan><tspan x="1540.6">signal </tspan><tspan x="1689.3">to </tspan><tspan x="1747.2">the </tspan><tspan x="1830.5">filter</tspan><tspan x="1939.7">-</tspan><tspan x="1958.6">1</tspan><tspan x="1986.4">V</tspan></text>
<rect x="770" y="683" width="170" height="12" fill="#7E2F8E" shape-rendering="crispEdges"/>
<text y="710" font-family="'Liberation Serif', serif" font-size="55.5" fill="#000" style="white-space:pre"><tspan x="954.0">The </tspan><tspan x="1053.8">response </tspan><tspan x="1265.6">of </tspan><tspan x="1326.8">the </tspan><tspan x="1409.6">input </tspan><tspan x="1540.6">signal </tspan><tspan x="1689.3">to </tspan><tspan x="1747.2">the </tspan><tspan x="1830.5">filter</tspan><tspan x="1939.7">-</tspan><tspan x="1958.0">2</tspan><tspan x="1986.4">V</tspan></text>
</g>
</svg>
</body></html>
